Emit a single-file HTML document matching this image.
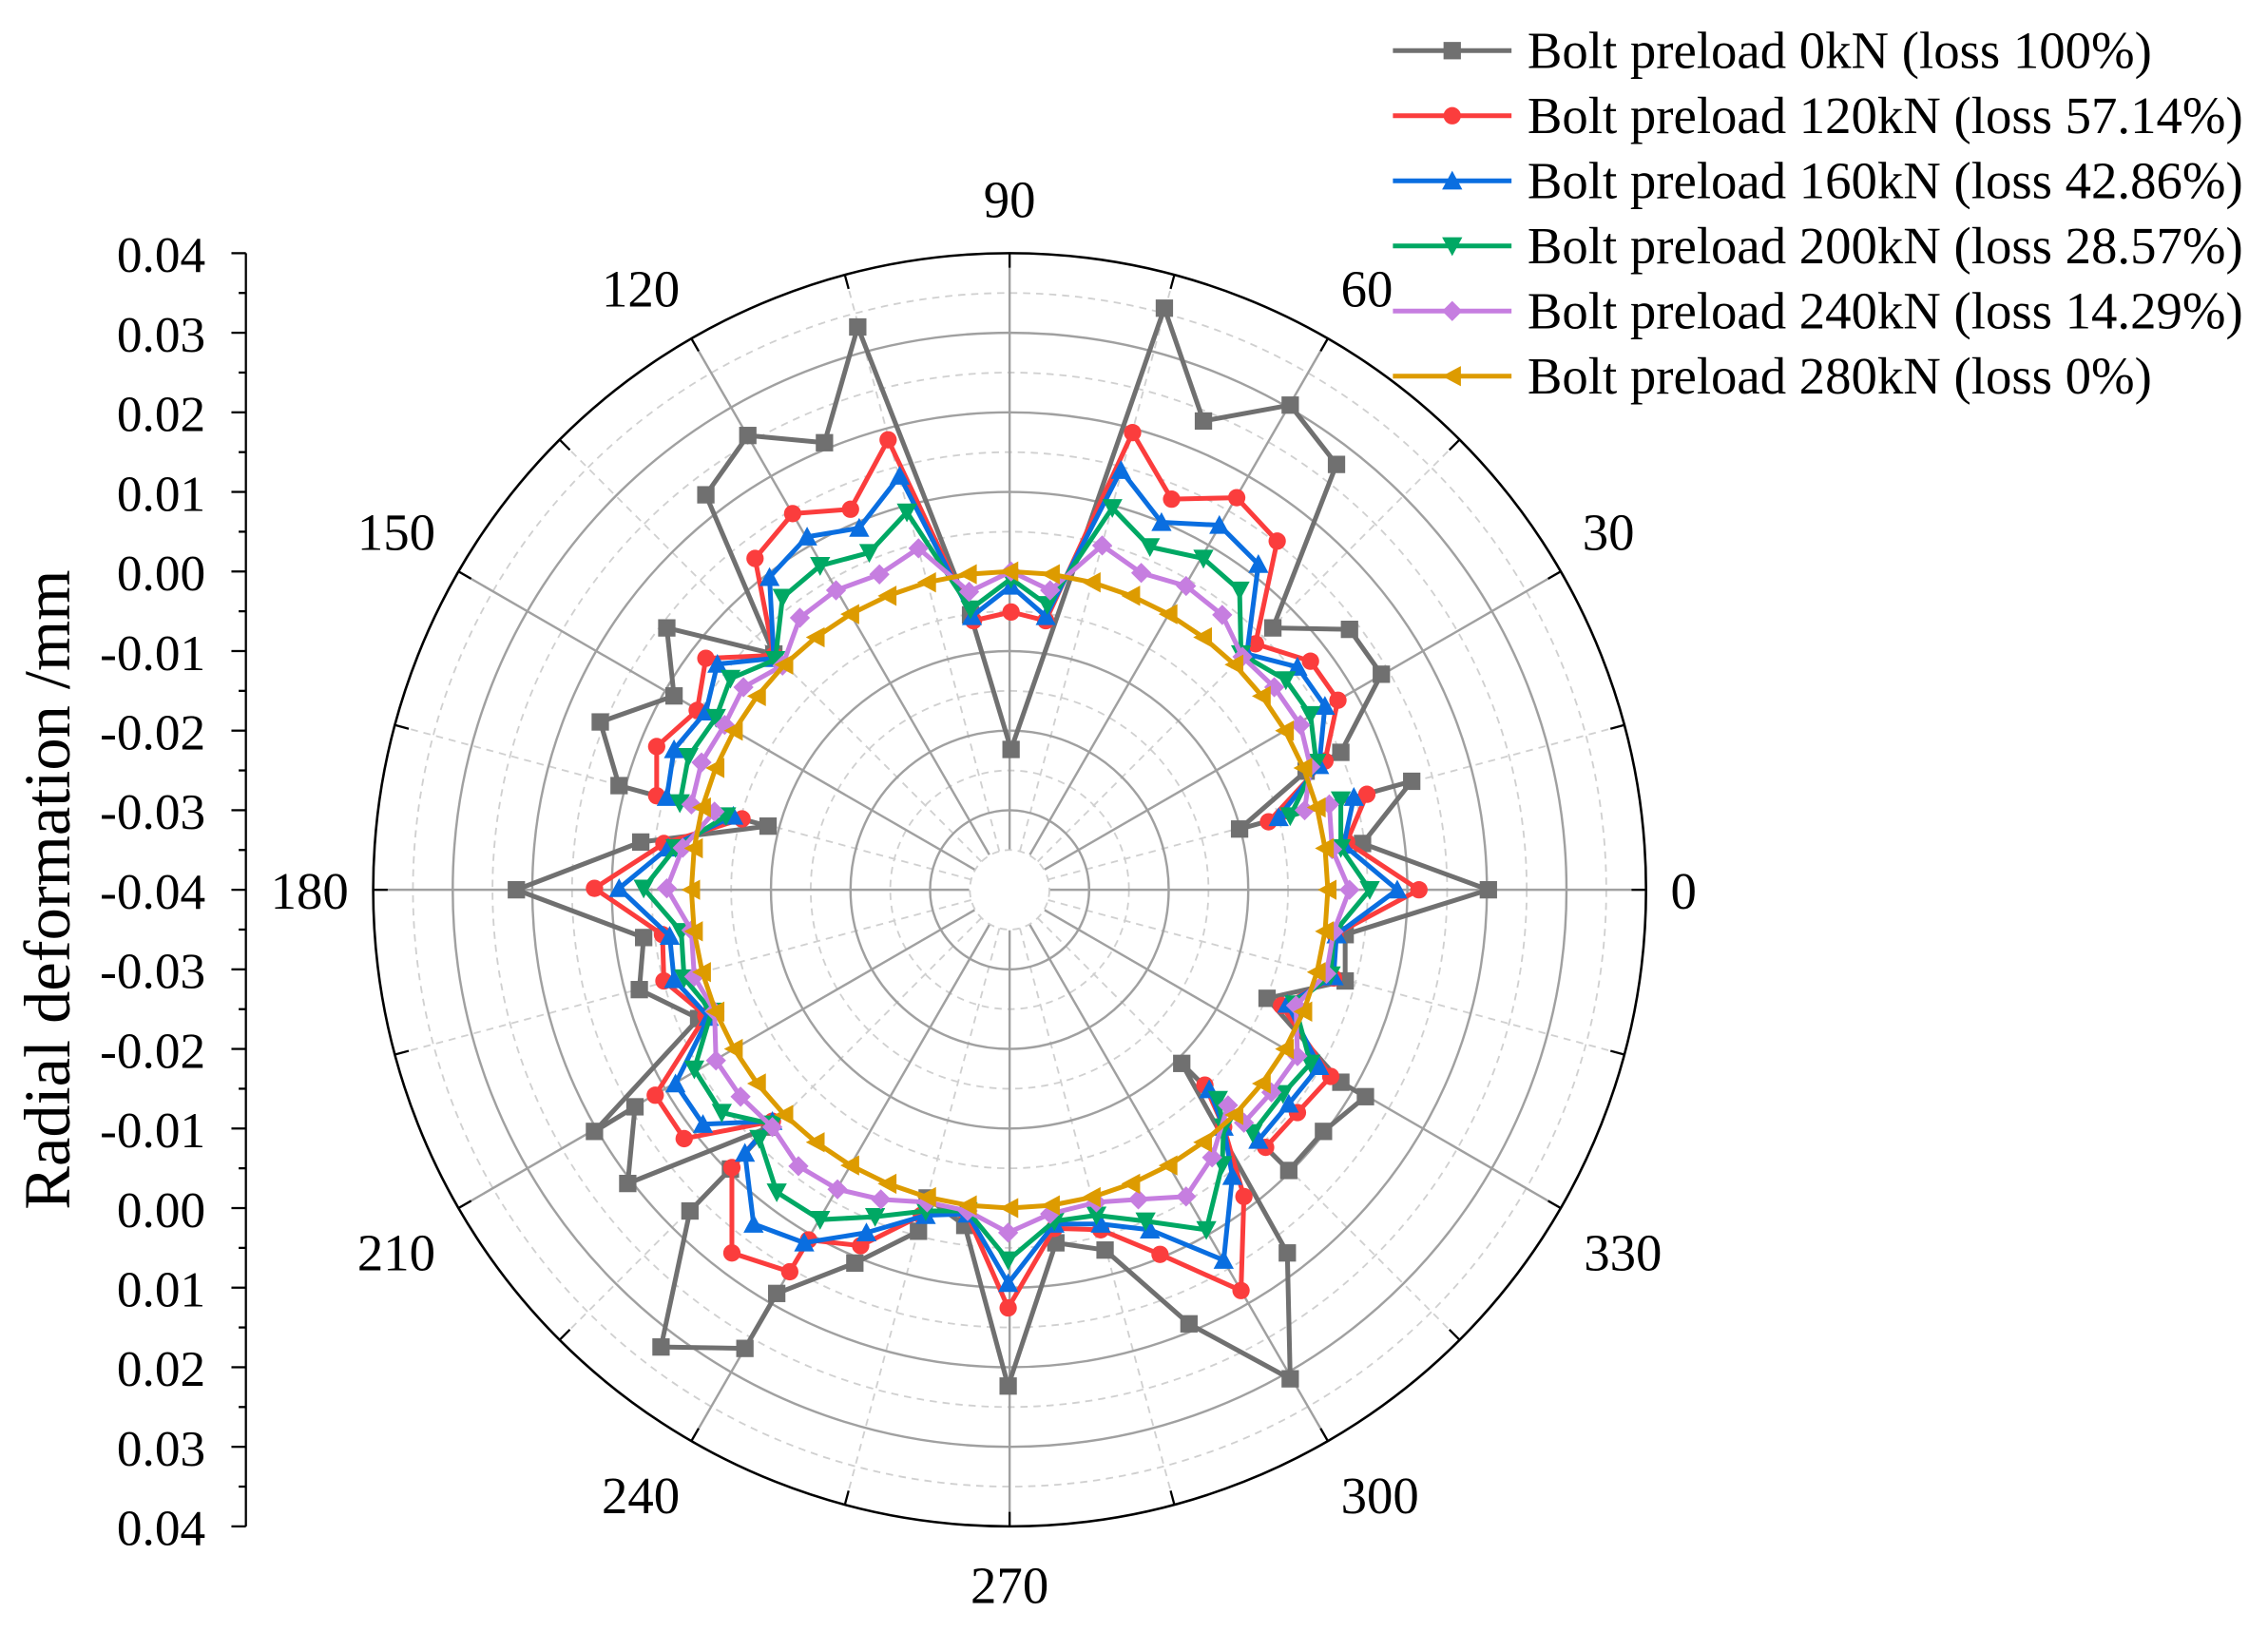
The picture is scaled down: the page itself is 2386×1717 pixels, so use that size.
<!DOCTYPE html>
<html><head><meta charset="utf-8"><style>html,body{margin:0;padding:0;background:#fff}svg{display:block}</style></head>
<body>
<svg width="2386" height="1717" viewBox="0 0 1568 1128" preserveAspectRatio="none" xmlns="http://www.w3.org/2000/svg" font-family="Liberation Serif, serif">
<defs>
<marker id="mg" markerUnits="userSpaceOnUse" markerWidth="14" markerHeight="14" refX="7" refY="7"><rect x="1" y="1" width="12" height="12" fill="#707070"/></marker>
<marker id="mr" markerUnits="userSpaceOnUse" markerWidth="14" markerHeight="14" refX="7" refY="7"><circle cx="7" cy="7" r="6" fill="#fb3d3d"/></marker>
<marker id="mb" markerUnits="userSpaceOnUse" markerWidth="16" markerHeight="16" refX="8" refY="8"><polygon points="8,1 15,14 1,14" fill="#0a6ee0"/></marker>
<marker id="mgr" markerUnits="userSpaceOnUse" markerWidth="16" markerHeight="16" refX="8" refY="8"><polygon points="1,2 15,2 8,15" fill="#00a864"/></marker>
<marker id="mp" markerUnits="userSpaceOnUse" markerWidth="16" markerHeight="16" refX="8" refY="8"><polygon points="8,1 15,8 8,15 1,8" fill="#c67ee0"/></marker>
<marker id="mo" markerUnits="userSpaceOnUse" markerWidth="16" markerHeight="16" refX="8" refY="8"><polygon points="1,8 14,1 14,15" fill="#dd9b00"/></marker>
</defs>
<rect width="1568" height="1128" fill="#fff"/>
<g fill="none">
<g stroke="#d0d0d0" stroke-width="1.2" stroke-dasharray="5,4">
<circle cx="698" cy="615" r="27.5"/><circle cx="698" cy="615" r="82.5"/><circle cx="698" cy="615" r="137.5"/><circle cx="698" cy="615" r="192.5"/><circle cx="698" cy="615" r="247.5"/><circle cx="698" cy="615" r="302.5"/><circle cx="698" cy="615" r="357.5"/><circle cx="698" cy="615" r="412.5"/>
<line x1="724.6" y1="607.9" x2="1123" y2="501.1"/><line x1="717.4" y1="595.5" x2="1009.1" y2="303.9"/><line x1="705.1" y1="588.4" x2="811.9" y2="190"/><line x1="690.9" y1="588.4" x2="584.1" y2="190"/><line x1="678.5" y1="595.5" x2="386.9" y2="303.9"/><line x1="671.4" y1="607.9" x2="273" y2="501.1"/><line x1="671.4" y1="622.1" x2="273" y2="728.9"/><line x1="678.5" y1="634.5" x2="386.9" y2="926.1"/><line x1="690.9" y1="641.6" x2="584.1" y2="1040"/><line x1="705.1" y1="641.6" x2="811.9" y2="1040"/><line x1="717.4" y1="634.5" x2="1009.1" y2="926.1"/><line x1="724.6" y1="622.1" x2="1123" y2="728.9"/>
</g>
<g stroke="#a0a0a0" stroke-width="1.6">
<circle cx="698" cy="615" r="55"/><circle cx="698" cy="615" r="110"/><circle cx="698" cy="615" r="165"/><circle cx="698" cy="615" r="220"/><circle cx="698" cy="615" r="275"/><circle cx="698" cy="615" r="330"/><circle cx="698" cy="615" r="385"/>
<line x1="726" y1="615" x2="1138" y2="615"/><line x1="722.2" y1="601" x2="1079" y2="395"/><line x1="712" y1="590.8" x2="918" y2="234"/><line x1="698" y1="587" x2="698" y2="175"/><line x1="684" y1="590.8" x2="478" y2="234"/><line x1="673.8" y1="601" x2="317" y2="395"/><line x1="670" y1="615" x2="258" y2="615"/><line x1="673.8" y1="629" x2="317" y2="835"/><line x1="684" y1="639.2" x2="478" y2="996"/><line x1="698" y1="643" x2="698" y2="1055"/><line x1="712" y1="639.2" x2="918" y2="996"/><line x1="722.2" y1="629" x2="1079" y2="835"/>
</g>
<circle cx="698" cy="615" r="440" stroke="#000" stroke-width="1.7"/>
<g stroke="#000" stroke-width="1.5">
<line x1="1138" y1="615" x2="1128" y2="615"/><line x1="1123" y1="501.1" x2="1113.4" y2="503.7"/><line x1="1079" y1="395" x2="1070.3" y2="400"/><line x1="1009.1" y1="303.9" x2="1002" y2="311"/><line x1="918" y1="234" x2="913" y2="242.7"/><line x1="811.9" y1="190" x2="809.3" y2="199.7"/><line x1="698" y1="175" x2="698" y2="185"/><line x1="584.1" y1="190" x2="586.7" y2="199.7"/><line x1="478" y1="234" x2="483" y2="242.7"/><line x1="386.9" y1="303.9" x2="394" y2="311"/><line x1="317" y1="395" x2="325.7" y2="400"/><line x1="273" y1="501.1" x2="282.6" y2="503.7"/><line x1="258" y1="615" x2="268" y2="615"/><line x1="273" y1="728.9" x2="282.6" y2="726.3"/><line x1="317" y1="835" x2="325.7" y2="830"/><line x1="386.9" y1="926.1" x2="394" y2="919"/><line x1="478" y1="996" x2="483" y2="987.3"/><line x1="584.1" y1="1040" x2="586.7" y2="1030.3"/><line x1="698" y1="1055" x2="698" y2="1045"/><line x1="811.9" y1="1040" x2="809.3" y2="1030.3"/><line x1="918" y1="996" x2="913" y2="987.3"/><line x1="1009.1" y1="926.1" x2="1002" y2="919"/><line x1="1079" y1="835" x2="1070.3" y2="830"/><line x1="1123" y1="728.9" x2="1113.4" y2="726.3"/>
</g>
</g>
<g font-size="36" fill="#000" text-anchor="middle">
<text x="1164" y="628">0</text><text x="1112" y="380">30</text><text x="945" y="212">60</text><text x="698" y="150">90</text><text x="443" y="212">120</text><text x="274" y="380">150</text><text x="214" y="628">180</text><text x="274" y="878">210</text><text x="443" y="1046">240</text><text x="698" y="1108">270</text><text x="954" y="1046">300</text><text x="1122" y="878">330</text>
</g>
<g fill="none" stroke-width="3.3" stroke-linejoin="round">
<polygon stroke="#707070" marker-start="url(#mg)" marker-mid="url(#mg)" points="1029,615 942,583 976,540 857,573 903,533 927,520 955,466 933,435 880,434 924,321 892,280 832,291 805,213 699,518 671,425 593,226 570,306 517,301 488,342 535,452 461,434 466,481 415,499 428,543 531,571 443,582 357,615 445,648 442,684 483,704 411,782 439,765 434,818 532,779 505,808 477,837 457,931 515,932 537,894 591,873 635,851 641,828 667,847 697,958 730,859 764,864 822,915 892,953 890,866 817,735 891,809 915,782 944,758 927,748 876,690 930,678 930,646"/>
<polygon stroke="#fb3d3d" marker-start="url(#mr)" marker-mid="url(#mr)" points="981,615 931,582 945,549 877,568 916,526 925,484 906,457 868,445 883,374 855,344 810,345 783,299 723,429 699,423 673,429 614,304 588,352 548,355 522,386 535,453 488,455 482,491 454,516 454,550 513,566 459,583 411,614 458,646 459,678 488,702 453,757 473,787 534,775 506,807 506,866 546,879 559,857 595,861 637,840 668,838 697,904 729,849 761,850 802,867 858,892 860,827 846,779 833,750 875,793 897,769 920,744 886,695 922,676 923,646"/>
<polygon stroke="#0a6ee0" marker-start="url(#mb)" marker-mid="url(#mb)" points="966,615 929,584 936,551 884,565 912,529 916,488 897,461 862,452 870,390 843,363 803,361 775,325 723,426 699,405 672,426 622,329 594,365 558,371 532,399 535,455 496,459 488,492 466,518 461,551 507,564 462,586 428,614 463,647 466,677 490,703 467,749 486,777 534,775 515,797 521,846 556,859 599,852 640,840 669,839 697,887 729,846 761,846 795,850 846,871 852,813 846,779 836,753 870,788 891,763 912,737 890,694 922,675 924,646"/>
<polygon stroke="#00a864" marker-start="url(#mgr)" marker-mid="url(#mgr)" points="947,615 927,586 927,553 892,564 910,527 906,494 889,470 858,452 857,408 832,386 795,378 769,351 724,418 699,400 671,421 627,354 601,382 567,391 541,413 536,456 505,469 495,496 476,523 470,555 502,564 467,586 445,614 471,644 473,676 492,699 480,739 499,769 534,777 525,787 537,824 567,843 605,841 640,837 669,837 697,871 729,844 758,840 792,844 834,850 845,805 846,779 842,760 866,783 887,756 906,735 895,694 920,674 922,645"/>
<polygon stroke="#c67ee0" marker-start="url(#mp)" marker-mid="url(#mp)" points="933,615 921,587 919,556 902,560 906,530 899,501 881,475 859,454 845,425 820,405 789,396 762,377 726,408 699,395 670,409 635,379 608,397 578,408 553,427 541,460 514,475 501,501 485,527 478,556 494,561 472,586 461,614 478,643 480,675 494,699 495,733 512,758 534,779 552,806 579,822 609,829 641,831 669,837 697,852 726,839 758,831 787,829 820,827 838,800 849,764 860,776 879,755 897,730 896,695 917,673 922,644"/>
<polygon stroke="#dd9b00" marker-start="url(#mo)" marker-mid="url(#mo)" points="918,615 916.1,586.3 910.5,558.1 901.2,530.8 888.5,505 872.5,481.1 853.6,459.4 831.9,440.5 808,424.5 782.2,411.8 754.9,402.5 726.7,396.9 698,395 669.3,396.9 641.1,402.5 613.8,411.8 588,424.5 564.1,440.5 542.4,459.4 523.5,481.1 507.5,505 494.8,530.8 485.5,558.1 479.9,586.3 478,615 479.9,643.7 485.5,671.9 494.8,699.2 507.5,725 523.5,748.9 542.4,770.6 564.1,789.5 588,805.5 613.8,818.2 641.1,827.5 669.3,833.1 698,835 726.7,833.1 754.9,827.5 782.2,818.2 808,805.5 831.9,789.5 853.6,770.6 872.5,748.9 888.5,725 901.2,699.2 910.5,671.9 916.1,643.7"/>
</g>
<g stroke="#000" stroke-width="1.5">
<line x1="170" y1="175" x2="170" y2="1055"/>
<line x1="160" y1="175" x2="170" y2="175"/><line x1="160" y1="230" x2="170" y2="230"/><line x1="160" y1="285" x2="170" y2="285"/><line x1="160" y1="340" x2="170" y2="340"/><line x1="160" y1="395" x2="170" y2="395"/><line x1="160" y1="450" x2="170" y2="450"/><line x1="160" y1="505" x2="170" y2="505"/><line x1="160" y1="560" x2="170" y2="560"/><line x1="160" y1="615" x2="170" y2="615"/><line x1="160" y1="670" x2="170" y2="670"/><line x1="160" y1="725" x2="170" y2="725"/><line x1="160" y1="780" x2="170" y2="780"/><line x1="160" y1="835" x2="170" y2="835"/><line x1="160" y1="890" x2="170" y2="890"/><line x1="160" y1="945" x2="170" y2="945"/><line x1="160" y1="1000" x2="170" y2="1000"/><line x1="160" y1="1055" x2="170" y2="1055"/>
<line x1="165" y1="202.5" x2="170" y2="202.5"/><line x1="165" y1="257.5" x2="170" y2="257.5"/><line x1="165" y1="312.5" x2="170" y2="312.5"/><line x1="165" y1="367.5" x2="170" y2="367.5"/><line x1="165" y1="422.5" x2="170" y2="422.5"/><line x1="165" y1="477.5" x2="170" y2="477.5"/><line x1="165" y1="532.5" x2="170" y2="532.5"/><line x1="165" y1="587.5" x2="170" y2="587.5"/><line x1="165" y1="642.5" x2="170" y2="642.5"/><line x1="165" y1="697.5" x2="170" y2="697.5"/><line x1="165" y1="752.5" x2="170" y2="752.5"/><line x1="165" y1="807.5" x2="170" y2="807.5"/><line x1="165" y1="862.5" x2="170" y2="862.5"/><line x1="165" y1="917.5" x2="170" y2="917.5"/><line x1="165" y1="972.5" x2="170" y2="972.5"/><line x1="165" y1="1027.5" x2="170" y2="1027.5"/>
</g>
<g font-size="35" fill="#000" text-anchor="end">
<text x="142" y="188">0.04</text><text x="142" y="243">0.03</text><text x="142" y="298">0.02</text><text x="142" y="353">0.01</text><text x="142" y="408">0.00</text><text x="142" y="463">-0.01</text><text x="142" y="518">-0.02</text><text x="142" y="573">-0.03</text><text x="142" y="628">-0.04</text><text x="142" y="683">-0.03</text><text x="142" y="738">-0.02</text><text x="142" y="793">-0.01</text><text x="142" y="848">0.00</text><text x="142" y="903">0.01</text><text x="142" y="958">0.02</text><text x="142" y="1013">0.03</text><text x="142" y="1068">0.04</text>
</g>
<text x="48" y="615" font-size="45" text-anchor="middle" transform="rotate(-90 48 615)">Radial deformation /mm</text>
<g stroke-width="3.3" fill="none">
<polyline points="963,35 1004,35 1045,35" stroke="#707070" marker-mid="url(#mg)"/>
<polyline points="963,80 1004,80 1045,80" stroke="#fb3d3d" marker-mid="url(#mr)"/>
<polyline points="963,125 1004,125 1045,125" stroke="#0a6ee0" marker-mid="url(#mb)"/>
<polyline points="963,170 1004,170 1045,170" stroke="#00a864" marker-mid="url(#mgr)"/>
<polyline points="963,215 1004,215 1045,215" stroke="#c67ee0" marker-mid="url(#mp)"/>
<polyline points="963,260 1004,260 1045,260" stroke="#dd9b00" marker-mid="url(#mo)"/>
</g>
<g font-size="36" fill="#000">
<text x="1056" y="47">Bolt preload 0kN (loss 100%)</text>
<text x="1056" y="92">Bolt preload 120kN (loss 57.14%)</text>
<text x="1056" y="137">Bolt preload 160kN (loss 42.86%)</text>
<text x="1056" y="182">Bolt preload 200kN (loss 28.57%)</text>
<text x="1056" y="227">Bolt preload 240kN (loss 14.29%)</text>
<text x="1056" y="272">Bolt preload 280kN (loss 0%)</text>
</g>
</svg>
</body></html>
